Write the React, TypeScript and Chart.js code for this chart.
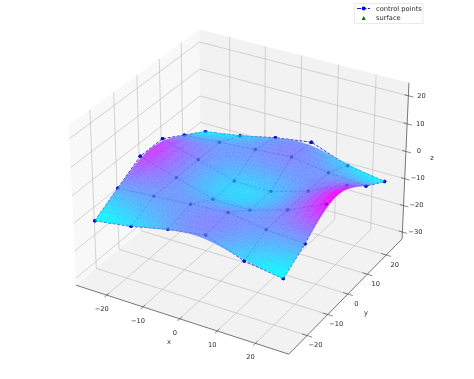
import React, { useEffect, useRef } from "react";
import { Chart, registerables } from "chart.js";

Chart.register(...registerables);

// Values
const xTicks = [-20, -10, 0, 10, 20];
const yTicks = [-20, -10, 0, 10, 20];
const zTicks = [-30, -20, -10, 0, 10, 20];
const ctrlX = [-25, -15, -5, 5, 15, 25];
const ctrlY = [-25, -15, -5, 5, 15, 25];
const ctrlZRow0 = [-10, -5, 0, 0, -5, -10];
const ctrlZRow1 = [-8, -4, -4, -4, -4, -8];
const ctrlZRow2 = [-5, -3, -8, -8, -3, -5];
const ctrlZRow3 = [-3, -2, -8, -8, -2, -3];
const ctrlZRow4 = [-8, -4, -4, -4, -4, -8];
const ctrlZRow5 = [-10, -5, 2, 2, -5, -10];
const ctrlZ = [ctrlZRow0, ctrlZRow1, ctrlZRow2, ctrlZRow3, ctrlZRow4, ctrlZRow5];
const xLim = [-28.6, 28.6];
const yLim = [-28.6, 28.6];
const zLim = [-32.6, 24.6];
const legendLabels = ["control points", "surface"];

const W = 474;
const H = 379;
const SX = 2132;
const SY = 2128;
const X0 = 242;
const Y0 = 184.3;
const HALF_XY = 0.5714;
const HALF_Z = 0.4286;
const DIST = 10;

// matplotlib view: elev 30, azim -60
function project(x: number, y: number, z: number) {
  const px = ((x - (xLim[0] + xLim[1]) / 2) / ((xLim[1] - xLim[0]) / 2)) * HALF_XY;
  const py = ((y - (yLim[0] + yLim[1]) / 2) / ((yLim[1] - yLim[0]) / 2)) * HALF_XY;
  const pz = ((z - (zLim[0] + zLim[1]) / 2) / ((zLim[1] - zLim[0]) / 2)) * HALF_Z;
  const vx = 0.8660254 * px + 0.5 * py;
  const vy = -0.25 * px + 0.4330127 * py + 0.8660254 * pz;
  const vz = 0.4330127 * px - 0.75 * py + 0.5 * pz;
  const d = DIST - vz;
  return { x: vx / d, y: vy / d, depth: vz };
}
const P = (x: number, y: number, z: number) => {
  const p = project(x, y, z);
  return { x: p.x, y: p.y };
};

// Clamped cubic B-spline surface defined by the control net above
const knots = [0, 0, 0, 0, 1 / 3, 2 / 3, 1, 1, 1, 1];
function basis(i: number, k: number, t: number): number {
  if (k === 0) return t >= knots[i] && t < knots[i + 1] ? 1 : 0;
  let out = 0;
  const a = knots[i + k] - knots[i];
  const b = knots[i + k + 1] - knots[i + 1];
  if (a > 0) out += ((t - knots[i]) / a) * basis(i, k - 1, t);
  if (b > 0) out += ((knots[i + k + 1] - t) / b) * basis(i + 1, k - 1, t);
  return out;
}
function surf(u: number, v: number) {
  let x = 0, y = 0, z = 0;
  for (let i = 0; i < 6; i++) {
    const bu = basis(i, 3, u);
    for (let j = 0; j < 6; j++) {
      const b = bu * basis(j, 3, v);
      x += b * ctrlX[i];
      y += b * ctrlY[j];
      z += b * ctrlZ[i][j];
    }
  }
  return { x, y, z };
}

const CELLS = 36;
const SURFACE_ALPHA = 0.93;
const COLOR_GAMMA = 1.2;

function buildDatasets() {
  const out: any[] = [];
  const line = (data: any[], color: string, width: number, extra: any = {}) =>
    out.push({ data, showLine: true, borderColor: color, borderWidth: width, pointRadius: 0, tension: 0, fill: false, clip: false, ...extra });
  const pane = (corners: any[], color: string) =>
    out.push({ data: corners, showLine: true, borderWidth: 0, borderColor: "transparent", backgroundColor: color, pointRadius: 0, tension: 0, fill: "shape", clip: false });

  const [x0, x1] = xLim, [y0, y1] = yLim, [z0, z1] = zLim;
  pane([P(x0, y0, z0), P(x1, y0, z0), P(x1, y1, z0), P(x0, y1, z0)], "rgba(237,237,237,0.72)");
  pane([P(x0, y0, z0), P(x0, y1, z0), P(x0, y1, z1), P(x0, y0, z1)], "rgba(242,242,242,0.5)");
  pane([P(x0, y1, z0), P(x1, y1, z0), P(x1, y1, z1), P(x0, y1, z1)], "rgba(230,230,230,0.5)");

  const grid = "#b8b8b8";
  for (const t of xTicks) line([P(t, y0, z0), P(t, y1, z0), P(t, y1, z1)], grid, 0.6);
  for (const t of yTicks) line([P(x1, t, z0), P(x0, t, z0), P(x0, t, z1)], grid, 0.6);
  for (const t of zTicks) line([P(x0, y0, t), P(x0, y1, t), P(x1, y1, t)], grid, 0.6);

  const axisC = "#555555";
  line([P(x0, y0, z0), P(x1, y0, z0)], axisC, 0.8);
  line([P(x1, y0, z0), P(x1, y1, z0)], axisC, 0.8);
  line([P(x1, y1, z0), P(x1, y1, z1)], axisC, 0.8);
  for (const t of xTicks) line([P(t, y0 - 1.0, z0), P(t, y0 + 1.0, z0)], axisC, 0.7);
  for (const t of yTicks) line([P(x1 - 1.3, t, z0), P(x1 + 1.3, t, z0)], axisC, 0.7);
  for (const t of zTicks) line([P(x1 - 1.0, y1, t), P(x1 + 1.3, y1, t)], axisC, 0.7);

  const addNet = (color: string, pointColor: string, named: boolean) => {
    const opts = (label?: string) => ({
      borderDash: [3, 1.5],
      pointRadius: 1.7,
      pointBackgroundColor: pointColor,
      pointBorderWidth: 0,
      ...(label ? { label } : {}),
    });
    for (let i = 0; i < 6; i++) {
      line(ctrlY.map((y, j) => P(ctrlX[i], y, ctrlZ[i][j])), color, 0.8, opts(named && i === 0 ? legendLabels[0] : undefined));
      line(ctrlX.map((x, j) => P(x, ctrlY[i], ctrlZ[j][i])), color, 0.8, opts());
    }
  };
  addNet("#1010d0", "#0000e0", true);

  // surface
  const pts: any[][] = [];
  let zMin = Infinity, zMax = -Infinity;
  for (let i = 0; i <= CELLS; i++) {
    pts[i] = [];
    for (let j = 0; j <= CELLS; j++) {
      const s = surf(Math.min(i / CELLS, 0.999999), Math.min(j / CELLS, 0.999999));
      pts[i][j] = s;
      zMin = Math.min(zMin, s.z);
      zMax = Math.max(zMax, s.z);
    }
  }
  const tris: any[] = [];
  const addTri = (a: any, b: any, c: any) => {
    const zm = (a.z + b.z + c.z) / 3;
    const pa = project(a.x, a.y, a.z), pb = project(b.x, b.y, b.z), pc = project(c.x, c.y, c.z);
    tris.push({ zm, depth: (pa.depth + pb.depth + pc.depth) / 3, data: [{ x: pa.x, y: pa.y }, { x: pb.x, y: pb.y }, { x: pc.x, y: pc.y }, { x: pa.x, y: pa.y }] });
  };
  for (let i = 0; i < CELLS; i++)
    for (let j = 0; j < CELLS; j++) {
      addTri(pts[i][j], pts[i + 1][j], pts[i + 1][j + 1]);
      addTri(pts[i][j], pts[i + 1][j + 1], pts[i][j + 1]);
    }
  tris.sort((a, b) => a.depth - b.depth);
  for (const t of tris) {
    const f = Math.pow((t.zm - zMin) / (zMax - zMin), COLOR_GAMMA);
    const c = `rgba(${Math.round(255 * f)},${Math.round(255 * (1 - f))},255,${SURFACE_ALPHA})`;
    out.push({
      data: t.data,
      showLine: true,
      borderWidth: 0.4,
      borderColor: c,
      backgroundColor: c,
      pointRadius: 0,
      tension: 0,
      fill: "shape",
      clip: false,
    });
  }
  // the net shows faintly through the surface in the reference
  addNet("rgba(40,40,180,0.14)", "rgba(30,30,180,0.18)", false);

  out.push({ label: legendLabels[1], data: [], pointStyle: "triangle", pointBackgroundColor: "#008000", showLine: false });
  // Chart.js paints higher "order" first
  out.forEach((d, i) => (d.order = out.length - i));
  return out;
}

const textPlugin = {
  id: "axisText",
  afterDraw(chart: any) {
    const { ctx, scales } = chart;
    const px = (p: { x: number; y: number }) => [scales.x.getPixelForValue(p.x), scales.y.getPixelForValue(p.y)];
    ctx.save();
    ctx.font = "6.7px 'DejaVu Sans'";
    ctx.fillStyle = "#2a2a2a";
    ctx.textAlign = "center";
    ctx.textBaseline = "middle";
    const fmt = (t: number) => (t < 0 ? "\u2212" + -t : String(t));
    for (const t of xTicks) {
      const [a, b] = px(P(t, yLim[0], zLim[0]));
      ctx.fillText(fmt(t), a - 5, b + 14);
    }
    for (const t of yTicks) {
      const [a, b] = px(P(xLim[1], t, zLim[0]));
      ctx.fillText(fmt(t), a + 8.5, b + 10);
    }
    for (const t of zTicks) {
      const [a, b] = px(P(xLim[1], yLim[1], t));
      ctx.fillText(fmt(t), a + 13, b);
    }
    ctx.fillText("x", 169, 342);
    ctx.fillText("y", 366, 313);
    ctx.fillText("z", 432, 158);

    // legend
    ctx.fillStyle = "rgba(255,255,255,0.8)";
    ctx.strokeStyle = "#dcdcdc";
    ctx.lineWidth = 0.6;
    ctx.beginPath();
    ctx.rect(354.5, 3.5, 68.5, 20);
    ctx.fill();
    ctx.stroke();
    ctx.strokeStyle = "#0000e0";
    ctx.lineWidth = 0.9;
    ctx.setLineDash([4, 1.5]);
    ctx.beginPath();
    ctx.moveTo(357, 8.5);
    ctx.lineTo(370, 8.5);
    ctx.stroke();
    ctx.setLineDash([]);
    ctx.fillStyle = "#0000e0";
    ctx.beginPath();
    ctx.arc(363.7, 8.5, 2, 0, Math.PI * 2);
    ctx.fill();
    ctx.fillStyle = "#007a00";
    ctx.beginPath();
    ctx.moveTo(363.7, 16);
    ctx.lineTo(365.8, 20);
    ctx.lineTo(361.6, 20);
    ctx.closePath();
    ctx.fill();
    ctx.fillStyle = "#2a2a2a";
    ctx.textAlign = "left";
    ctx.fillText(legendLabels[0], 376, 8.8);
    ctx.fillText(legendLabels[1], 376, 18.2);
    ctx.restore();
  },
};

export default function App() {
  const ref = useRef<HTMLCanvasElement | null>(null);
  useEffect(() => {
    document.body.style.margin = "0";
    const chart = new Chart(ref.current as HTMLCanvasElement, {
      type: "scatter",
      data: { datasets: buildDatasets() },
      options: {
        animation: false,
        responsive: false,
        events: [],
        layout: { padding: 0, autoPadding: false },
        plugins: { legend: { display: false }, tooltip: { enabled: false } },
        scales: {
          x: { type: "linear", display: false, min: (0 - X0) / SX, max: (W - X0) / SX },
          y: { type: "linear", display: false, min: (Y0 - H) / SY, max: Y0 / SY },
        },
      },
      plugins: [textPlugin],
    } as any);
    return () => chart.destroy();
  }, []);
  return <canvas ref={ref} width={W} height={H} style={{ display: "block", filter: "blur(0.3px)" }} />;
}
